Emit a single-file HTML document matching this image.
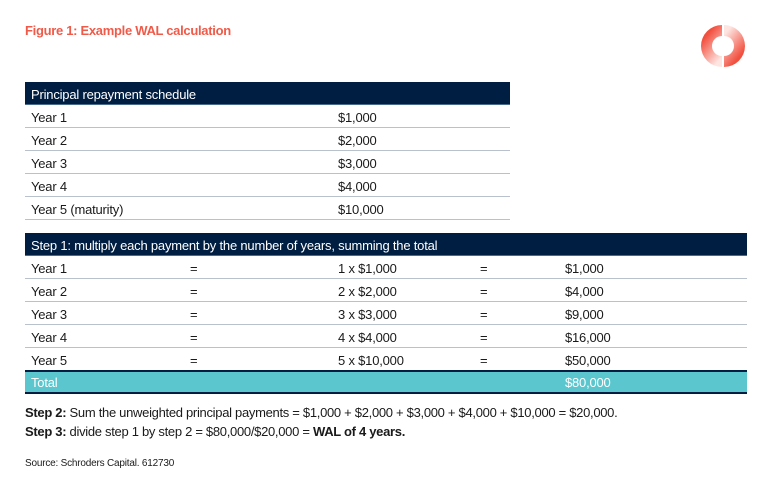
<!DOCTYPE html>
<html><head><meta charset="utf-8"><style>
body{margin:0;width:770px;height:490px;background:#fff;font-family:"Liberation Sans",sans-serif;color:#1a1a1a;position:relative;overflow:hidden}
.a{position:absolute}
.title{left:25px;top:23px;font-size:13px;font-weight:bold;color:#F05A48;letter-spacing:-0.3px}
.tbl{position:absolute;left:25px}
.row{position:relative;height:22px;border-bottom:1.5px solid #b9c2cc;font-size:13px;letter-spacing:-0.2px}
.row span{position:absolute;top:5px}
.hdr{background:#001E41;color:#fff;border-bottom:1.5px solid #4a6a8a}
.tot{background:#5BC6CE;color:#fff;border-bottom:2px solid #001E41;border-top:2px solid #001E41}
.note{left:25px;font-size:13px;letter-spacing:-0.3px}
</style></head><body>
<div class="a title">Figure 1: Example WAL calculation</div>
<svg class="a" style="left:701px;top:24px" width="44" height="44">
<defs>
<linearGradient id="gl" x1="0" y1="0" x2="0.6" y2="1"><stop offset="0.3" stop-color="#F2503F"/><stop offset="1" stop-color="#fde5e1"/></linearGradient>
<linearGradient id="gr" x1="0.4" y1="0" x2="1" y2="1"><stop offset="0" stop-color="#fde5e1"/><stop offset="0.7" stop-color="#F2503F"/></linearGradient>
</defs>
<path d="M21 1 A21 21 0 0 0 21 43 L21 32 A10 10 0 0 1 21 12 Z" fill="url(#gl)"/>
<path d="M23 1 A21 21 0 0 1 23 43 L23 32 A10 10 0 0 0 23 12 Z" fill="url(#gr)"/>
</svg>
<div class="tbl" style="top:82px;width:485px">
<div class="row hdr"><span style="left:6px">Principal repayment schedule</span></div>
<div class="row"><span style="left:6px">Year 1</span><span style="left:313px">$1,000</span></div>
<div class="row"><span style="left:6px">Year 2</span><span style="left:313px">$2,000</span></div>
<div class="row"><span style="left:6px">Year 3</span><span style="left:313px">$3,000</span></div>
<div class="row"><span style="left:6px">Year 4</span><span style="left:313px">$4,000</span></div>
<div class="row"><span style="left:6px">Year 5 (maturity)</span><span style="left:313px">$10,000</span></div>
</div>
<div class="tbl" style="top:233px;width:722px">
<div class="row hdr"><span style="left:6px">Step 1: multiply each payment by the number of years, summing the total</span></div>
<div class="row"><span style="left:6px">Year 1</span><span style="left:165px">=</span><span style="left:313px">1 x $1,000</span><span style="left:455px">=</span><span style="left:540px">$1,000</span></div>
<div class="row"><span style="left:6px">Year 2</span><span style="left:165px">=</span><span style="left:313px">2 x $2,000</span><span style="left:455px">=</span><span style="left:540px">$4,000</span></div>
<div class="row"><span style="left:6px">Year 3</span><span style="left:165px">=</span><span style="left:313px">3 x $3,000</span><span style="left:455px">=</span><span style="left:540px">$9,000</span></div>
<div class="row"><span style="left:6px">Year 4</span><span style="left:165px">=</span><span style="left:313px">4 x $4,000</span><span style="left:455px">=</span><span style="left:540px">$16,000</span></div>
<div class="row" style="border-bottom:none"><span style="left:6px">Year 5</span><span style="left:165px">=</span><span style="left:313px">5 x $10,000</span><span style="left:455px">=</span><span style="left:540px">$50,000</span></div>
<div class="row tot" style="height:20px"><span style="left:6px;top:3px">Total</span><span style="left:540px;top:3px">$80,000</span></div>
</div>
<div class="a note" style="top:405px"><b>Step 2:</b> Sum the unweighted principal payments = $1,000 + $2,000 + $3,000 + $4,000 + $10,000 = $20,000.</div>
<div class="a note" style="top:424px"><b>Step 3:</b> divide step 1 by step 2 = $80,000/$20,000 = <b>WAL of 4 years.</b></div>
<div class="a" style="left:25px;top:458px;font-size:10px;letter-spacing:-0.2px">Source: Schroders Capital. 612730</div>
</body></html>
